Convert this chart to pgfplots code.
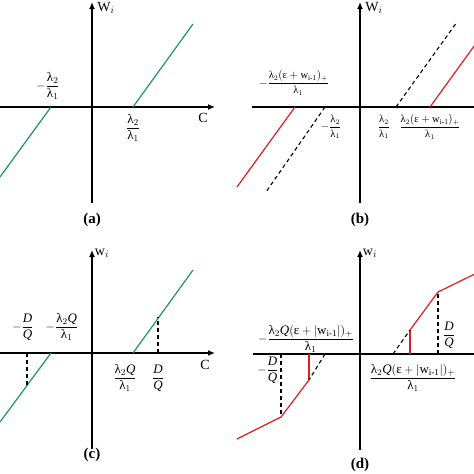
\documentclass[border=0pt]{standalone}
\usepackage{amsmath}
\usepackage{fontspec}
\setmainfont{Liberation Serif}
\usepackage{pgfplots}
\pgfplotsset{compat=1.18}
\usetikzlibrary{arrows.meta}

\definecolor{grn}{RGB}{30,150,100}
\definecolor{rd}{RGB}{220,30,30}

% panel axes: 1 data unit = 1pt, origin where the axes cross
\pgfplotsset{
  panel/.style={
    axis lines=middle, x=1pt, y=1pt, anchor=origin,
    enlargelimits=false, clip=false,
    xtick=\empty, ytick=\empty,
    axis line style={line width=1.4pt, -{Latex[length=7pt,width=6pt]}},
  },
}
\tikzset{
  plab/.style={font=\fontsize{13}{15}\selectfont},
  slab/.style={font=\fontsize{10.5}{12}\selectfont},
  paxl/.style={font=\fontsize{14}{16}\selectfont},
  pcap/.style={font=\fontsize{15}{17}\selectfont\bfseries},
}
\newcommand{\lam}{\text{λ}}
\newcommand{\eps}{\text{ε}}
\newcommand{\wim}{\mathrm{w}_{\mathrm{i\text{-}1}}}

\begin{document}
\begin{tikzpicture}
\useasboundingbox (0,0) rectangle (474pt,-474pt);

% ---------- (a) ----------
\begin{axis}[panel, at={(92pt,-107pt)}, xmin=-92, xmax=123, ymin=-96, ymax=105]
\addplot[grn, line width=1.2pt] coordinates {(41,0) (101,83)};
\addplot[grn, line width=1.2pt] coordinates {(-41,0) (-92,-70)};
\node[plab] at (axis cs:-44,21) {$-\dfrac{\lam_2}{\lam_1}$};
\node[plab] at (axis cs:41,-21) {$\dfrac{\lam_2}{\lam_1}$};
\node[paxl] at (axis cs:111,-11) {C};
\node[paxl] at (axis cs:14,99) {W$_{i}$};
\node[pcap] at (axis cs:0,-113) {(a)};
\end{axis}

% ---------- (b) ----------
\begin{axis}[panel, at={(360pt,-107pt)}, xmin=-108, xmax=125, ymin=-96, ymax=105]
\addplot[rd, line width=1.2pt] coordinates {(70,0) (125,76)};
\addplot[rd, line width=1.2pt] coordinates {(-65,0) (-123,-80)};
\addplot[black, line width=1.1pt, dash pattern=on 4pt off 3pt] coordinates {(36,0) (97,85)};
\addplot[black, line width=1.1pt, dash pattern=on 4pt off 3pt] coordinates {(-35,0) (-94,-85)};
\node[slab] at (axis cs:-66,24) {$-\dfrac{\lam_2(\eps+\wim)_+}{\lam_1}$};
\node[slab] at (axis cs:-29,-20) {$-\dfrac{\lam_2}{\lam_1}$};
\node[slab] at (axis cs:24,-20) {$\dfrac{\lam_2}{\lam_1}$};
\node[slab] at (axis cs:70,-20) {$\dfrac{\lam_2(\eps+\wim)_+}{\lam_1}$};
\node[paxl] at (axis cs:123,-12) {C};
\node[paxl] at (axis cs:14,99) {W$_{i}$};
\node[pcap] at (axis cs:0,-113) {(b)};
\end{axis}

% ---------- (c) ----------
\begin{axis}[panel, at={(92pt,-353pt)}, xmin=-92, xmax=123, ymin=-96, ymax=103]
\addplot[grn, line width=1.2pt] coordinates {(41,0) (101,83)};
\addplot[grn, line width=1.2pt] coordinates {(-41,0) (-92,-69)};
\addplot[black, line width=1.1pt, dash pattern=on 4pt off 3pt] coordinates {(66,0) (66,36)};
\addplot[black, line width=1.1pt, dash pattern=on 4pt off 3pt] coordinates {(-65,0) (-65,-32)};
\node[plab] at (axis cs:-69,26) {$-\dfrac{\textit{D}}{\textit{Q}}$};
\node[plab] at (axis cs:-30,26) {$-\dfrac{\lam_2\textit{Q}}{\lam_1}$};
\node[plab] at (axis cs:33,-25) {$\dfrac{\lam_2\textit{Q}}{\lam_1}$};
\node[plab] at (axis cs:66,-25) {$\dfrac{\textit{D}}{\textit{Q}}$};
\node[paxl] at (axis cs:113,-12) {C};
\node[paxl] at (axis cs:10,100) {w$_{i}$};
\node[pcap] at (axis cs:0,-102) {(c)};
\end{axis}

% ---------- (d) ----------
\begin{axis}[panel, at={(360pt,-354pt)}, xmin=-107, xmax=125, ymin=-96, ymax=104]
\addplot[rd, line width=1.2pt] coordinates {(50,0) (50,24)};
\addplot[rd, line width=1.2pt] coordinates {(50,24) (78,62) (125,85)};
\addplot[black, line width=1.1pt, dash pattern=on 4pt off 3pt] coordinates {(33,0) (50,24)};
\addplot[black, line width=1.1pt, dash pattern=on 4pt off 3pt] coordinates {(78,0) (78,62)};
\addplot[rd, line width=1.2pt] coordinates {(-51,0) (-51,-26)};
\addplot[rd, line width=1.2pt] coordinates {(-51,-26) (-79,-63) (-123,-85)};
\addplot[black, line width=1.1pt, dash pattern=on 4pt off 3pt] coordinates {(-35,0) (-51,-26)};
\addplot[black, line width=1.1pt, dash pattern=on 4pt off 3pt] coordinates {(-79,0) (-79,-63)};
\node[plab] at (axis cs:-54,15) {$-\dfrac{\lam_2\textit{Q}(\eps+|\wim|)_+}{\lam_1}$};
\node[plab] at (axis cs:-92,-16) {$-\dfrac{\textit{D}}{\textit{Q}}$};
\node[plab] at (axis cs:89,19) {$\dfrac{\textit{D}}{\textit{Q}}$};
\node[plab] at (axis cs:53,-24) {$\dfrac{\lam_2\textit{Q}(\eps+|\wim|)_+}{\lam_1}$};
\node[paxl] at (axis cs:10,101) {w$_{i}$};
\node[pcap] at (axis cs:0,-111) {(d)};
\end{axis}
\end{tikzpicture}
\end{document}
